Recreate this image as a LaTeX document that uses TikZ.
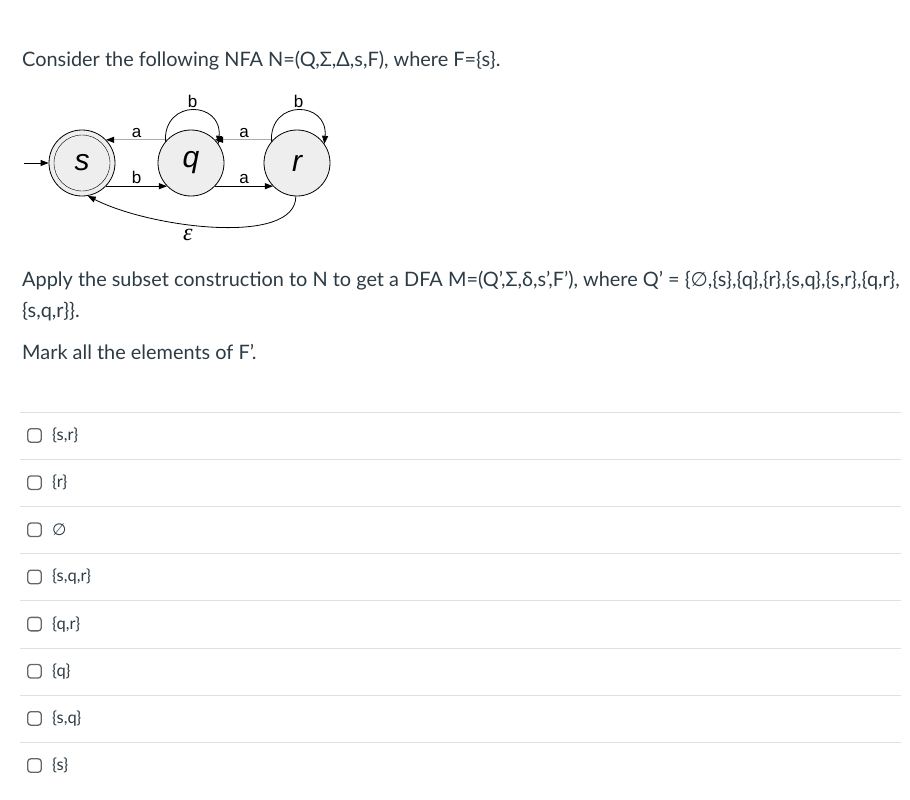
\documentclass[tikz,border=0pt]{standalone}
\usepackage{fontspec}
\usepackage{tikz}
\usetikzlibrary{arrows.meta}
\setmainfont{Lato}
\newfontfamily\arialfont{Liberation Sans}
\newfontfamily\serifont{Liberation Serif}
\newfontfamily\symfont{DejaVu Sans}
\newcommand{\nullset}{{\symfont ∅}}
\definecolor{canvastext}{HTML}{2D3B45}
\definecolor{rulegray}{HTML}{E0E0E0}
\definecolor{statefill}{HTML}{EEEEEE}

\begin{document}
\begin{tikzpicture}[x=1pt, y=-1pt,
  state/.style={circle, draw, line width=0.8pt, fill=statefill, minimum size=66pt, inner sep=0pt,
    font=\arialfont\itshape\fontsize{30}{30}\selectfont},
  trans/.style={line width=0.8pt, -{Triangle[length=8pt, width=6pt, color=black]}},
  lbl/.style={font=\arialfont\fontsize{17}{17}\selectfont, inner sep=2pt},
  para/.style={anchor=base west, inner sep=0pt, text=canvastext, font=\fontsize{19.9}{24}\selectfont},
  chkbox/.style={draw=gray!80!black, line width=1.3pt, rounded corners=3pt, minimum size=13.5pt, inner sep=0pt},
  optlbl/.style={anchor=west, inner sep=0pt, text=canvastext, font=\fontsize{16.5}{16.5}\selectfont}]
\useasboundingbox (0,0) rectangle (910,800);

% question text
\node [para] (t1) at (22,66.7) {Consider the following NFA N=(Q,Σ,Δ,s,F), where F=\{s\}.};
\node [para] (t2) at (22,286.7) {Apply the subset construction to N to get a DFA M=(Q',Σ,δ,s',F'), where Q' = \{\nullset,\{s\},\{q\},\{r\},\{s,q\},\{s,r\},\{q,r\},};
\node [para] (t3) at (22,317) {\{s,q,r\}\}.};
\node [para] (t4) at (22,359) {Mark all the elements of F'.};

% the NFA
\node [state] (s) at (82,163) {s};
\draw (s.center) circle [radius=28pt];
\node [state, right of=s, node distance=109pt] (q) {q};
\node [state, right of=q, node distance=106pt] (r) {r};
\coordinate (start) at (24,163);

\draw [trans] (start) -- (s);
\draw [trans] (s.316) -- node [lbl, above] {b} (q.224);
\draw [trans] (q.316) -- node [lbl, above] {a} (r.224);
\draw [trans, draw=gray!65] (q.136) -- node [lbl, above] {a} (s.44);
\draw [trans, draw=gray!65] (r.136) -- node [lbl, above] {a} (q.44);
\draw [trans] (q.140) .. controls +(-2,-43) and +(4,-43) .. node [lbl, above] {b} (q.35);
\draw [trans] (r.140) .. controls +(-2,-43) and +(4,-43) .. node [lbl, above] {b} (r.35);
\draw [trans] (r.268) .. controls +(0,50) and +(62,32) .. node [pos=0.6, below=1pt, font=\serifont\itshape\fontsize{24}{24}\selectfont] {ε} (s.280);

% answer options
\foreach \i in {0,...,7}
  \draw [rulegray, line width=1pt] (20,412.3+47.15*\i) -- (901,412.3+47.15*\i);
\foreach \i/\txt in {0/{\{s,r\}}, 1/{\{r\}}, 2/{\nullset}, 3/{\{s,q,r\}}, 4/{\{q,r\}}, 5/{\{q\}}, 6/{\{s,q\}}, 7/{\{s\}}} {
  \node [chkbox] (box\i) at (34.5,435.5+47.15*\i) {};
  \node [optlbl] (opt\i) at (52,435.5+47.15*\i) {\txt};
}
\end{tikzpicture}
\end{document}
